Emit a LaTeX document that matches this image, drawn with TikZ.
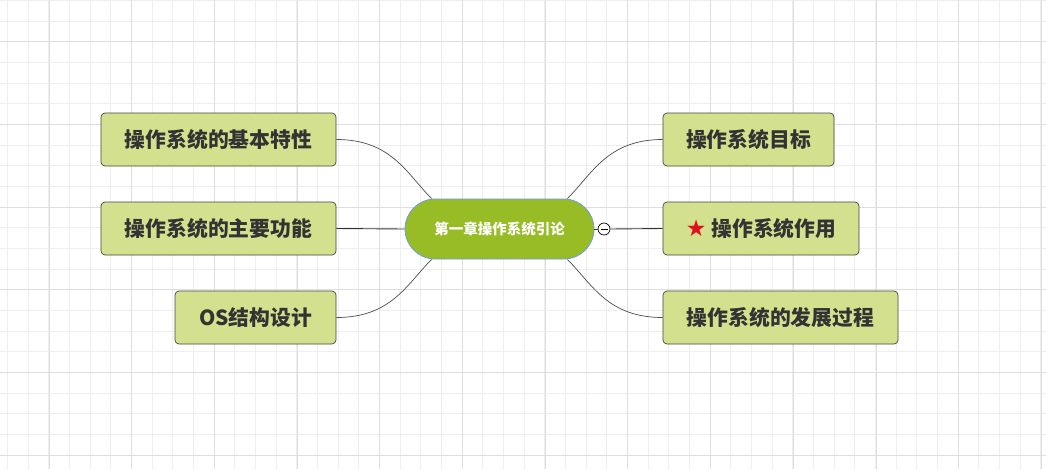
\documentclass[tikz,border=0pt]{standalone}
\usepackage{fontspec}
\setmainfont{Noto Sans CJK SC}
\newfontfamily\symfont{DejaVu Sans}
\usepackage{xcolor}
\usetikzlibrary{positioning}
\definecolor{rootgreen}{HTML}{97BC26}
\definecolor{rootedge}{HTML}{6B9FE3}
\definecolor{topicfill}{HTML}{D3E18F}
\definecolor{topicedge}{HTML}{444444}
\definecolor{topictext}{HTML}{333333}
\definecolor{gridminor}{HTML}{EEEEEE}
\definecolor{gridmajor}{HTML}{DEDEDE}
\definecolor{starred}{HTML}{E0101E}

\begin{document}
\begin{tikzpicture}[
    x=1pt, y=-1pt,
    root/.style={draw=rootedge, fill=rootgreen, rounded corners=30pt, minimum width=189pt, minimum height=60pt,
      text=white, font=\fontsize{14.5}{16}\selectfont\bfseries, line width=0.8pt},
    topic/.style={draw=topicedge, fill=topicfill, rounded corners=4pt, minimum height=53pt, inner sep=0pt,
      text=topictext, font=\fontsize{20.8}{24}\selectfont\bfseries, line width=0.7pt},
    fold/.style={draw=black, fill=white, circle, minimum size=12pt, inner sep=0pt, line width=0.7pt},
    branch/.style={draw=black!70, line width=0.7pt},
    stem/.style={draw=black!80, line width=0.9pt}
  ]
  \useasboundingbox (0,0) rectangle (1046,469);
  % background grid
  \fill[white] (0,0) rectangle (1046,469);
  \foreach \i in {0,...,50} \draw[gridminor, line width=0.8pt] ({7.3+20.67*\i},0) -- ++(0,469);
  \foreach \i in {0,...,22} \draw[gridminor, line width=0.8pt] (0,{0.3+20.67*\i}) -- ++(1046,0);
  \foreach \i in {0,...,12} \draw[gridmajor, line width=0.9pt] ({49+82.7*\i},0) -- ++(0,469);
  \foreach \i in {0,...,5} \draw[gridmajor, line width=0.9pt] (0,{41.7+82.7*\i}) -- ++(1046,0);

  % central topic
  \node[root] (root) at (499.5,229) {第一章操作系统引论};
  \node[fold] (fold) at (604,229) {};
  \draw[line width=0.7pt] (fold.center) ++(-3.5,0) -- ++(7,0);

  % left branches
  \node[topic, minimum width=235pt] (feat) at (218.5,139.5) {操作系统的基本特性};
  \node[topic, minimum width=235pt] (func) at (218.5,228.5) {操作系统的主要功能};
  \node[topic, minimum width=161pt] (osdesign) at (255.5,317.5) {OS结构设计};

  % right branches
  \node[topic, minimum width=171pt] (goal) at (748.5,139.5) {操作系统目标};
  \node[topic, minimum width=196pt] (role) at (761,228.5) {{\symfont\fontsize{23}{24}\selectfont\textcolor{starred}{★}}\hspace{5pt}操作系统作用};
  \node[topic, minimum width=235pt] (hist) at (780.5,317.5) {操作系统的发展过程};

  \draw[branch] (feat.east) .. controls +(55,0) and +(-25,-25) .. ([xshift=27pt]root.north west);
  \draw[stem] (func.east) -- (root.west);
  \draw[branch] (osdesign.east) .. controls +(55,0) and +(-25,25) .. ([xshift=27pt]root.south west);
  \draw[branch] (goal.west) .. controls +(-55,0) and +(25,-25) .. ([xshift=-27pt]root.north east);
  \draw[stem] (root.east) -- (fold.west);
  \draw[stem] (fold.east) -- (role.west);
  \draw[branch] (hist.west) .. controls +(-55,0) and +(25,25) .. ([xshift=-27pt]root.south east);
\end{tikzpicture}
\end{document}
